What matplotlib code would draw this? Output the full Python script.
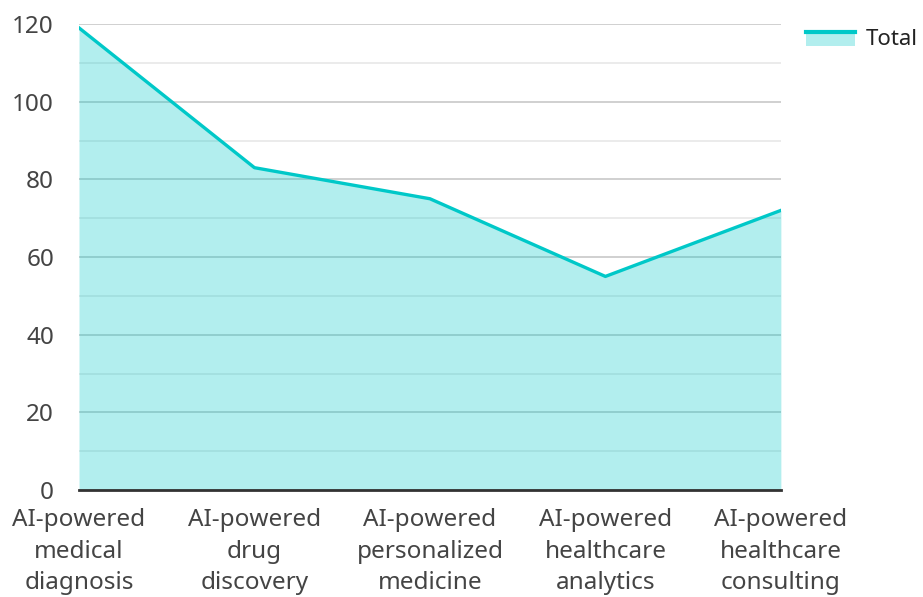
import numpy as np
import matplotlib.pyplot as plt
from matplotlib.legend_handler import HandlerBase
from matplotlib.patches import Rectangle
from matplotlib.lines import Line2D
from matplotlib.ticker import MultipleLocator

plt.rcParams['font.family'] = ['Noto Sans', 'DejaVu Sans']

categories = ["AI-powered\nmedical\ndiagnosis", "AI-powered\ndrug\ndiscovery",
              "AI-powered\npersonalized\nmedicine", "AI-powered\nhealthcare\nanalytics",
              "AI-powered\nhealthcare\nconsulting"]
totals = [119, 83, 75, 55, 72]

line_color = '#00c8c8'


class AreaHandler(HandlerBase):
    # legend swatch: filled box with the line along its top edge
    def create_artists(self, legend, orig_handle, xdescent, ydescent,
                       width, height, fontsize, trans):
        rect = Rectangle((-xdescent, -ydescent), width, height * 0.8,
                         facecolor=line_color, alpha=0.3, edgecolor='none',
                         transform=trans)
        ln = Line2D([-xdescent, -xdescent + width],
                    [-ydescent + height * 0.8] * 2,
                    color=line_color, lw=3, transform=trans)
        return [rect, ln]


fig = plt.figure(figsize=(9.23, 5.97), dpi=100)
ax = fig.add_axes([0.0856, 0.1792, 0.7604, 0.7806])

x = np.arange(len(categories))
ax.fill_between(x, totals, 0, color=line_color, alpha=0.3, lw=0, zorder=2)
line, = ax.plot(x, totals, color=line_color, lw=2.4, zorder=3, label='Total')

ax.set_xlim(0, len(categories) - 1)
ax.set_ylim(0, 120)
ax.yaxis.set_major_locator(MultipleLocator(20))
ax.yaxis.set_minor_locator(MultipleLocator(10))
ax.grid(which='major', axis='y', color='#c8c8c8', lw=1.2, zorder=0)
ax.grid(which='minor', axis='y', color='#e8e8e8', lw=1.2, zorder=0)
ax.set_axisbelow(True)

for s in ['top', 'right', 'left']:
    ax.spines[s].set_visible(False)
ax.spines['bottom'].set_color('#333333')
ax.spines['bottom'].set_linewidth(2)
ax.spines['bottom'].set_zorder(4)

ax.set_xticks(x)
ax.set_xticklabels(categories, linespacing=1.42)
ax.tick_params(axis='both', which='both', length=0, labelsize=17.5, labelcolor='#444444')
ax.tick_params(axis='x', pad=13)
ax.tick_params(axis='y', pad=18)

ax.legend([line], ['Total'], handler_map={Line2D: AreaHandler()},
          loc='upper left', bbox_to_anchor=(1.023, 1.01), frameon=False,
          fontsize=16, handlelength=2.2, handleheight=0.85, handletextpad=0.5,
          borderaxespad=0, labelcolor='#222222')

fig.savefig('out.png', dpi=100)
